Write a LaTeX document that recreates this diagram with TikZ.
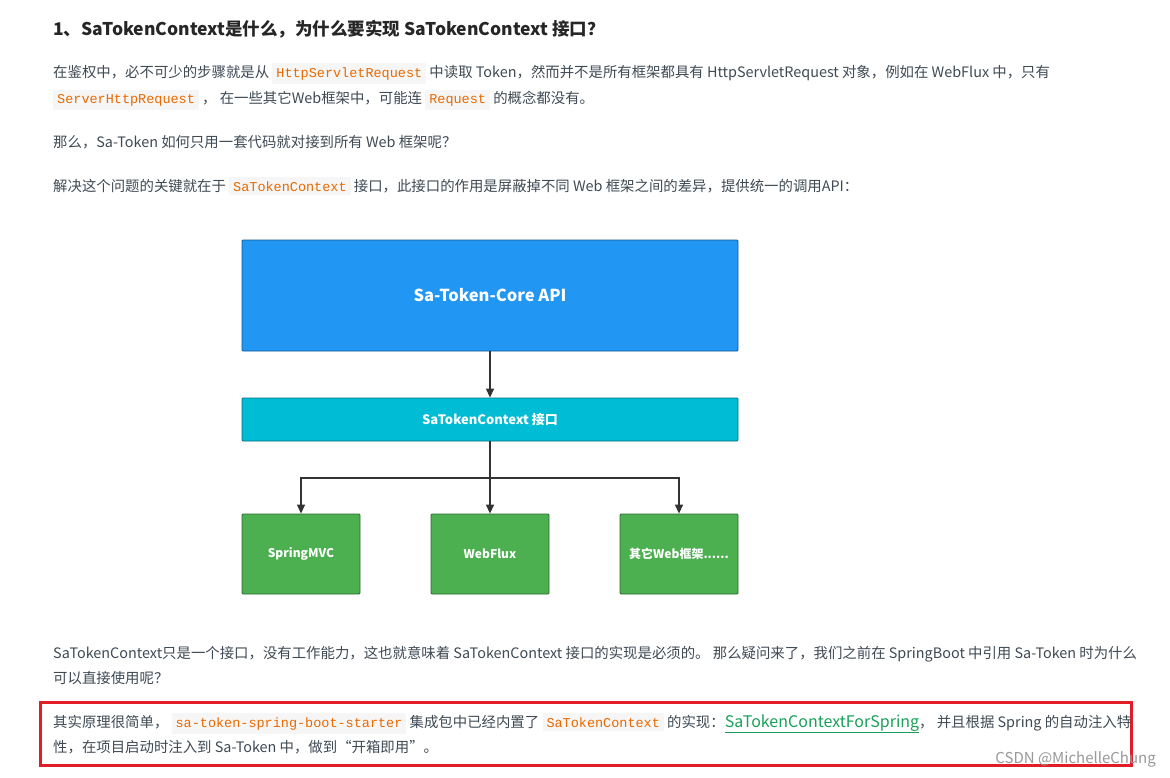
\documentclass[tikz,border=0pt]{standalone}
\usepackage{fontspec}
\setmainfont{Noto Sans CJK SC}
\setmonofont{Liberation Mono}
\usetikzlibrary{arrows.meta}
\definecolor{txt}{HTML}{3F4A54}
\definecolor{codebg}{HTML}{F6F6F6}
\definecolor{codefg}{HTML}{E96900}
\definecolor{blueb}{HTML}{2196F3}
\definecolor{cyanb}{HTML}{00BCD4}
\definecolor{greenb}{HTML}{4CAF50}
\definecolor{linkg}{HTML}{1AA05A}
\newcommand\mycode[1]{{\setlength{\fboxsep}{4pt}\colorbox{codebg}{\fontsize{13.5}{15}\ttfamily\color{codefg}#1}}}
\tikzset{
  para/.style={anchor=base west,inner sep=0,text=txt,font=\fontsize{14.4}{17}\selectfont},
  box/.style={draw=#1!60!black,line width=0.8pt,fill=#1,rounded corners=1pt,text=white,font=\bfseries},
  conn/.style={draw=black!80,line width=1.2pt,-{Triangle[length=9pt,width=8pt]}}
}
\begin{document}
\begin{tikzpicture}[x=1pt,y=-1pt]
\useasboundingbox (0,0) rectangle (1170,777);
\fill[white] (0,0) rectangle (1170,777);
\node[para,text=black!85,font=\fontsize{17.5}{20}\bfseries] (h) at (53,35) {1、SaTokenContext是什么，为什么要实现 SaTokenContext 接口？};
\node[para] (l1) at (53,77) {在鉴权中，必不可少的步骤就是从 \mycode{HttpServletRequest} 中读取 Token，然而并不是所有框架都具有 HttpServletRequest 对象，例如在 WebFlux 中，只有};
\node[para] (l2) at (53,103) {\mycode{ServerHttpRequest} ， 在一些其它Web框架中，可能连 \mycode{Request} 的概念都没有。};
\node[para] (l3) at (53,147) {那么，Sa-Token 如何只用一套代码就对接到所有 Web 框架呢？};
\node[para] (l4) at (53,191) {解决这个问题的关键就在于 \mycode{SaTokenContext} 接口，此接口的作用是屏蔽掉不同 Web 框架之间的差异，提供统一的调用API：};

\node[box=blueb,minimum width=496,minimum height=111,font=\fontsize{16.5}{18}\bfseries] (core) at (490,295.5) {Sa-Token-Core API};
\node[box=cyanb,minimum width=496,minimum height=43,font=\fontsize{13}{15}\bfseries] (ctx) at (490,419.5) {SaTokenContext 接口};
\node[box=greenb,minimum width=118,minimum height=80,font=\fontsize{12}{14}\bfseries] (g1) at (301,554) {SpringMVC};
\node[box=greenb,minimum width=118,minimum height=80,font=\fontsize{12}{14}\bfseries] (g2) at (490,554) {WebFlux};
\node[box=greenb,minimum width=118,minimum height=80,font=\fontsize{12}{14}\bfseries] (g3) at (679,554) {其它Web框架......};
\coordinate (j) at (490,478);
\draw[conn] (core) -- (ctx);
\draw[line width=1.2pt,draw=black!80] (ctx) -- (j);
\draw[conn] (j) -| (g1.north);
\draw[conn] (j) -- (g2);
\draw[conn] (j) -| (g3.north);

\node[para] (p1) at (53,658) {SaTokenContext只是一个接口，没有工作能力，这也就意味着 SaTokenContext 接口的实现是必须的。 那么疑问来了，我们之前在 SpringBoot 中引用 Sa-Token 时为什么};
\node[para] (p2) at (53,683) {可以直接使用呢？};
\node[draw={rgb,255:red,225;green,30;blue,40},line width=3pt,minimum width=1091,minimum height=63,inner sep=0] (red) at (585.5,733.5) {};
\node[para] (q1) at (53,727) {其实原理很简单， \mycode{sa-token-spring-boot-starter} 集成包中已经内置了 \mycode{SaTokenContext} 的实现：{\fontsize{16}{18}\selectfont\color{linkg}\underline{SaTokenContextForSpring}}， 并且根据 Spring 的自动注入特};
\node[para] (q2) at (53,752) {性，在项目启动时注入到 Sa-Token 中，做到“开箱即用”。};
\node[anchor=base east,inner sep=0,text=black!40,font=\fontsize{15}{17}\selectfont] (wm) at (1156,763) {CSDN @MichelleChung};
\end{tikzpicture}
\end{document}
